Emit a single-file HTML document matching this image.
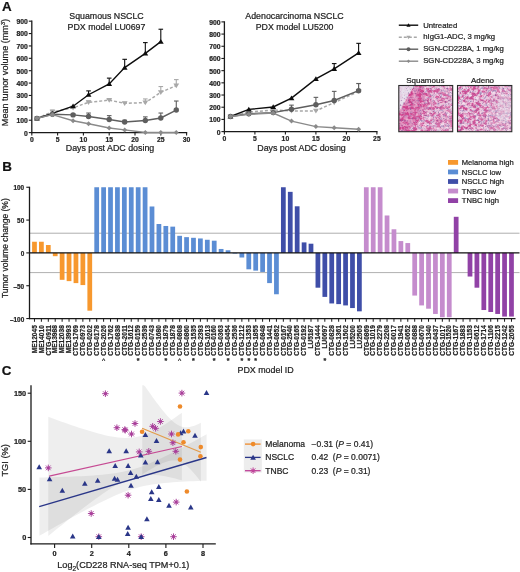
<!DOCTYPE html>
<html><head><meta charset="utf-8"><style>
html,body{margin:0;padding:0;background:#fff;}
svg{display:block;font-family:"Liberation Sans", sans-serif;will-change:transform;}
text{stroke:#222;stroke-width:0.22px;paint-order:stroke;}
</style></head><body>
<svg width="520" height="572" viewBox="0 0 520 572">
<rect width="520" height="572" fill="#fff"/>
<text x="2.00" y="11.00" font-size="13.4" text-anchor="start" font-weight="bold" fill="#111" >A</text>
<text x="2.30" y="171.20" font-size="13.4" text-anchor="start" font-weight="bold" fill="#111" >B</text>
<text x="1.70" y="375.30" font-size="13.4" text-anchor="start" font-weight="bold" fill="#111" >C</text>
<line x1="31.80" y1="20.58" x2="31.80" y2="133.20" stroke="#1a1a1a" stroke-width="1.3" />
<line x1="31.20" y1="132.60" x2="187.20" y2="132.60" stroke="#1a1a1a" stroke-width="1.3" />
<line x1="28.80" y1="132.60" x2="31.80" y2="132.60" stroke="#1a1a1a" stroke-width="1.1" />
<text x="27.90" y="135.50" font-size="6.8" text-anchor="end" font-weight="bold" fill="#222" >0</text>
<line x1="28.80" y1="120.22" x2="31.80" y2="120.22" stroke="#1a1a1a" stroke-width="1.1" />
<text x="27.90" y="123.12" font-size="6.8" text-anchor="end" font-weight="bold" fill="#222" >100</text>
<line x1="28.80" y1="107.84" x2="31.80" y2="107.84" stroke="#1a1a1a" stroke-width="1.1" />
<text x="27.90" y="110.74" font-size="6.8" text-anchor="end" font-weight="bold" fill="#222" >200</text>
<line x1="28.80" y1="95.46" x2="31.80" y2="95.46" stroke="#1a1a1a" stroke-width="1.1" />
<text x="27.90" y="98.36" font-size="6.8" text-anchor="end" font-weight="bold" fill="#222" >300</text>
<line x1="28.80" y1="83.08" x2="31.80" y2="83.08" stroke="#1a1a1a" stroke-width="1.1" />
<text x="27.90" y="85.98" font-size="6.8" text-anchor="end" font-weight="bold" fill="#222" >400</text>
<line x1="28.80" y1="70.70" x2="31.80" y2="70.70" stroke="#1a1a1a" stroke-width="1.1" />
<text x="27.90" y="73.60" font-size="6.8" text-anchor="end" font-weight="bold" fill="#222" >500</text>
<line x1="28.80" y1="58.32" x2="31.80" y2="58.32" stroke="#1a1a1a" stroke-width="1.1" />
<text x="27.90" y="61.22" font-size="6.8" text-anchor="end" font-weight="bold" fill="#222" >600</text>
<line x1="28.80" y1="45.94" x2="31.80" y2="45.94" stroke="#1a1a1a" stroke-width="1.1" />
<text x="27.90" y="48.84" font-size="6.8" text-anchor="end" font-weight="bold" fill="#222" >700</text>
<line x1="28.80" y1="33.56" x2="31.80" y2="33.56" stroke="#1a1a1a" stroke-width="1.1" />
<text x="27.90" y="36.46" font-size="6.8" text-anchor="end" font-weight="bold" fill="#222" >800</text>
<line x1="28.80" y1="21.18" x2="31.80" y2="21.18" stroke="#1a1a1a" stroke-width="1.1" />
<text x="27.90" y="24.08" font-size="6.8" text-anchor="end" font-weight="bold" fill="#222" >900</text>
<line x1="31.80" y1="132.60" x2="31.80" y2="135.40" stroke="#1a1a1a" stroke-width="1.1" />
<text x="31.80" y="142.00" font-size="6.8" text-anchor="middle" font-weight="bold" fill="#222" >0</text>
<line x1="57.60" y1="132.60" x2="57.60" y2="135.40" stroke="#1a1a1a" stroke-width="1.1" />
<text x="57.60" y="142.00" font-size="6.8" text-anchor="middle" font-weight="bold" fill="#222" >5</text>
<line x1="83.40" y1="132.60" x2="83.40" y2="135.40" stroke="#1a1a1a" stroke-width="1.1" />
<text x="83.40" y="142.00" font-size="6.8" text-anchor="middle" font-weight="bold" fill="#222" >10</text>
<line x1="109.20" y1="132.60" x2="109.20" y2="135.40" stroke="#1a1a1a" stroke-width="1.1" />
<text x="109.20" y="142.00" font-size="6.8" text-anchor="middle" font-weight="bold" fill="#222" >15</text>
<line x1="135.00" y1="132.60" x2="135.00" y2="135.40" stroke="#1a1a1a" stroke-width="1.1" />
<text x="135.00" y="142.00" font-size="6.8" text-anchor="middle" font-weight="bold" fill="#222" >20</text>
<line x1="160.80" y1="132.60" x2="160.80" y2="135.40" stroke="#1a1a1a" stroke-width="1.1" />
<text x="160.80" y="142.00" font-size="6.8" text-anchor="middle" font-weight="bold" fill="#222" >25</text>
<line x1="186.60" y1="132.60" x2="186.60" y2="135.40" stroke="#1a1a1a" stroke-width="1.1" />
<text x="186.60" y="142.00" font-size="6.8" text-anchor="middle" font-weight="bold" fill="#222" >30</text>
<line x1="52.44" y1="111.80" x2="52.44" y2="110.07" stroke="#a8a8a8" stroke-width="1.1" />
<line x1="50.14" y1="110.07" x2="54.74" y2="110.07" stroke="#a8a8a8" stroke-width="1.1" />
<line x1="88.56" y1="102.27" x2="88.56" y2="100.91" stroke="#a8a8a8" stroke-width="1.1" />
<line x1="86.26" y1="100.91" x2="90.86" y2="100.91" stroke="#a8a8a8" stroke-width="1.1" />
<line x1="109.20" y1="100.16" x2="109.20" y2="99.17" stroke="#a8a8a8" stroke-width="1.1" />
<line x1="106.90" y1="99.17" x2="111.50" y2="99.17" stroke="#a8a8a8" stroke-width="1.1" />
<line x1="124.68" y1="103.26" x2="124.68" y2="102.27" stroke="#a8a8a8" stroke-width="1.1" />
<line x1="122.38" y1="102.27" x2="126.98" y2="102.27" stroke="#a8a8a8" stroke-width="1.1" />
<line x1="145.32" y1="102.64" x2="145.32" y2="98.93" stroke="#a8a8a8" stroke-width="1.1" />
<line x1="143.02" y1="98.93" x2="147.62" y2="98.93" stroke="#a8a8a8" stroke-width="1.1" />
<line x1="160.80" y1="92.36" x2="160.80" y2="86.55" stroke="#a8a8a8" stroke-width="1.1" />
<line x1="158.50" y1="86.55" x2="163.10" y2="86.55" stroke="#a8a8a8" stroke-width="1.1" />
<line x1="176.28" y1="85.56" x2="176.28" y2="79.61" stroke="#a8a8a8" stroke-width="1.1" />
<line x1="173.98" y1="79.61" x2="178.58" y2="79.61" stroke="#a8a8a8" stroke-width="1.1" />
<polyline points="36.96,118.36 52.44,111.80 73.08,107.84 88.56,102.27 109.20,100.16 124.68,103.26 145.32,102.64 160.80,92.36 176.28,85.56" stroke="#a8a8a8" stroke-width="1.5" fill="none" stroke-dasharray="3,2"/>
<polygon points="34.06,116.26 39.86,116.26 36.96,121.06" fill="#a8a8a8" />
<polygon points="49.54,109.70 55.34,109.70 52.44,114.50" fill="#a8a8a8" />
<polygon points="70.18,105.74 75.98,105.74 73.08,110.54" fill="#a8a8a8" />
<polygon points="85.66,100.17 91.46,100.17 88.56,104.97" fill="#a8a8a8" />
<polygon points="106.30,98.06 112.10,98.06 109.20,102.86" fill="#a8a8a8" />
<polygon points="121.78,101.16 127.58,101.16 124.68,105.96" fill="#a8a8a8" />
<polygon points="142.42,100.54 148.22,100.54 145.32,105.34" fill="#a8a8a8" />
<polygon points="157.90,90.27 163.70,90.27 160.80,95.06" fill="#a8a8a8" />
<polygon points="173.38,83.46 179.18,83.46 176.28,88.26" fill="#a8a8a8" />
<line x1="88.56" y1="94.72" x2="88.56" y2="90.88" stroke="#0d0d0d" stroke-width="1.1" />
<line x1="86.26" y1="90.88" x2="90.86" y2="90.88" stroke="#0d0d0d" stroke-width="1.1" />
<line x1="109.20" y1="83.95" x2="109.20" y2="78.13" stroke="#0d0d0d" stroke-width="1.1" />
<line x1="106.90" y1="78.13" x2="111.50" y2="78.13" stroke="#0d0d0d" stroke-width="1.1" />
<line x1="124.68" y1="67.61" x2="124.68" y2="59.31" stroke="#0d0d0d" stroke-width="1.1" />
<line x1="122.38" y1="59.31" x2="126.98" y2="59.31" stroke="#0d0d0d" stroke-width="1.1" />
<line x1="145.32" y1="53.37" x2="145.32" y2="42.60" stroke="#0d0d0d" stroke-width="1.1" />
<line x1="143.02" y1="42.60" x2="147.62" y2="42.60" stroke="#0d0d0d" stroke-width="1.1" />
<line x1="160.80" y1="41.61" x2="160.80" y2="29.23" stroke="#0d0d0d" stroke-width="1.1" />
<line x1="158.50" y1="29.23" x2="163.10" y2="29.23" stroke="#0d0d0d" stroke-width="1.1" />
<polyline points="36.96,118.36 52.44,113.41 73.08,106.23 88.56,94.72 109.20,83.95 124.68,67.61 145.32,53.37 160.80,41.61" stroke="#0d0d0d" stroke-width="1.4" fill="none" />
<polygon points="34.06,120.46 39.86,120.46 36.96,115.66" fill="#0d0d0d" />
<polygon points="49.54,115.51 55.34,115.51 52.44,110.71" fill="#0d0d0d" />
<polygon points="70.18,108.33 75.98,108.33 73.08,103.53" fill="#0d0d0d" />
<polygon points="85.66,96.82 91.46,96.82 88.56,92.02" fill="#0d0d0d" />
<polygon points="106.30,86.05 112.10,86.05 109.20,81.25" fill="#0d0d0d" />
<polygon points="121.78,69.70 127.58,69.70 124.68,64.91" fill="#0d0d0d" />
<polygon points="142.42,55.47 148.22,55.47 145.32,50.67" fill="#0d0d0d" />
<polygon points="157.90,43.71 163.70,43.71 160.80,38.91" fill="#0d0d0d" />
<line x1="73.08" y1="114.90" x2="73.08" y2="114.03" stroke="#5e5e5e" stroke-width="1.1" />
<line x1="70.78" y1="114.03" x2="75.38" y2="114.03" stroke="#5e5e5e" stroke-width="1.1" />
<line x1="88.56" y1="116.51" x2="88.56" y2="113.04" stroke="#5e5e5e" stroke-width="1.1" />
<line x1="86.26" y1="113.04" x2="90.86" y2="113.04" stroke="#5e5e5e" stroke-width="1.1" />
<line x1="109.20" y1="119.48" x2="109.20" y2="115.64" stroke="#5e5e5e" stroke-width="1.1" />
<line x1="106.90" y1="115.64" x2="111.50" y2="115.64" stroke="#5e5e5e" stroke-width="1.1" />
<line x1="124.68" y1="121.95" x2="124.68" y2="120.22" stroke="#5e5e5e" stroke-width="1.1" />
<line x1="122.38" y1="120.22" x2="126.98" y2="120.22" stroke="#5e5e5e" stroke-width="1.1" />
<line x1="145.32" y1="120.47" x2="145.32" y2="116.88" stroke="#5e5e5e" stroke-width="1.1" />
<line x1="143.02" y1="116.88" x2="147.62" y2="116.88" stroke="#5e5e5e" stroke-width="1.1" />
<line x1="160.80" y1="117.99" x2="160.80" y2="113.04" stroke="#5e5e5e" stroke-width="1.1" />
<line x1="158.50" y1="113.04" x2="163.10" y2="113.04" stroke="#5e5e5e" stroke-width="1.1" />
<line x1="176.28" y1="110.07" x2="176.28" y2="101.03" stroke="#5e5e5e" stroke-width="1.1" />
<line x1="173.98" y1="101.03" x2="178.58" y2="101.03" stroke="#5e5e5e" stroke-width="1.1" />
<polyline points="36.96,118.36 52.44,114.28 73.08,114.90 88.56,116.51 109.20,119.48 124.68,121.95 145.32,120.47 160.80,117.99 176.28,110.07" stroke="#5e5e5e" stroke-width="1.4" fill="none" />
<circle cx="36.96" cy="118.36" r="2.70" fill="#5e5e5e"/>
<circle cx="52.44" cy="114.28" r="2.70" fill="#5e5e5e"/>
<circle cx="73.08" cy="114.90" r="2.70" fill="#5e5e5e"/>
<circle cx="88.56" cy="116.51" r="2.70" fill="#5e5e5e"/>
<circle cx="109.20" cy="119.48" r="2.70" fill="#5e5e5e"/>
<circle cx="124.68" cy="121.95" r="2.70" fill="#5e5e5e"/>
<circle cx="145.32" cy="120.47" r="2.70" fill="#5e5e5e"/>
<circle cx="160.80" cy="117.99" r="2.70" fill="#5e5e5e"/>
<circle cx="176.28" cy="110.07" r="2.70" fill="#5e5e5e"/>
<polyline points="36.96,118.36 52.44,114.65 73.08,120.72 88.56,123.69 109.20,128.02 124.68,129.88 145.32,132.48 160.80,132.48 176.28,132.48" stroke="#8a8a8a" stroke-width="1.4" fill="none" />
<polygon points="34.46,118.36 36.96,115.86 39.46,118.36 36.96,120.86" fill="#8a8a8a" />
<polygon points="49.94,114.65 52.44,112.15 54.94,114.65 52.44,117.15" fill="#8a8a8a" />
<polygon points="70.58,120.72 73.08,118.22 75.58,120.72 73.08,123.22" fill="#8a8a8a" />
<polygon points="86.06,123.69 88.56,121.19 91.06,123.69 88.56,126.19" fill="#8a8a8a" />
<polygon points="106.70,128.02 109.20,125.52 111.70,128.02 109.20,130.52" fill="#8a8a8a" />
<polygon points="122.18,129.88 124.68,127.38 127.18,129.88 124.68,132.38" fill="#8a8a8a" />
<polygon points="142.82,132.48 145.32,129.98 147.82,132.48 145.32,134.98" fill="#8a8a8a" />
<polygon points="158.30,132.48 160.80,129.98 163.30,132.48 160.80,134.98" fill="#8a8a8a" />
<polygon points="173.78,132.48 176.28,129.98 178.78,132.48 176.28,134.98" fill="#8a8a8a" />
<line x1="224.40" y1="21.29" x2="224.40" y2="132.20" stroke="#1a1a1a" stroke-width="1.3" />
<line x1="223.80" y1="131.60" x2="377.50" y2="131.60" stroke="#1a1a1a" stroke-width="1.3" />
<line x1="221.40" y1="131.60" x2="224.40" y2="131.60" stroke="#1a1a1a" stroke-width="1.1" />
<text x="220.50" y="134.50" font-size="6.8" text-anchor="end" font-weight="bold" fill="#222" >0</text>
<line x1="221.40" y1="119.41" x2="224.40" y2="119.41" stroke="#1a1a1a" stroke-width="1.1" />
<text x="220.50" y="122.31" font-size="6.8" text-anchor="end" font-weight="bold" fill="#222" >100</text>
<line x1="221.40" y1="107.22" x2="224.40" y2="107.22" stroke="#1a1a1a" stroke-width="1.1" />
<text x="220.50" y="110.12" font-size="6.8" text-anchor="end" font-weight="bold" fill="#222" >200</text>
<line x1="221.40" y1="95.03" x2="224.40" y2="95.03" stroke="#1a1a1a" stroke-width="1.1" />
<text x="220.50" y="97.93" font-size="6.8" text-anchor="end" font-weight="bold" fill="#222" >300</text>
<line x1="221.40" y1="82.84" x2="224.40" y2="82.84" stroke="#1a1a1a" stroke-width="1.1" />
<text x="220.50" y="85.74" font-size="6.8" text-anchor="end" font-weight="bold" fill="#222" >400</text>
<line x1="221.40" y1="70.65" x2="224.40" y2="70.65" stroke="#1a1a1a" stroke-width="1.1" />
<text x="220.50" y="73.55" font-size="6.8" text-anchor="end" font-weight="bold" fill="#222" >500</text>
<line x1="221.40" y1="58.46" x2="224.40" y2="58.46" stroke="#1a1a1a" stroke-width="1.1" />
<text x="220.50" y="61.36" font-size="6.8" text-anchor="end" font-weight="bold" fill="#222" >600</text>
<line x1="221.40" y1="46.27" x2="224.40" y2="46.27" stroke="#1a1a1a" stroke-width="1.1" />
<text x="220.50" y="49.17" font-size="6.8" text-anchor="end" font-weight="bold" fill="#222" >700</text>
<line x1="221.40" y1="34.08" x2="224.40" y2="34.08" stroke="#1a1a1a" stroke-width="1.1" />
<text x="220.50" y="36.98" font-size="6.8" text-anchor="end" font-weight="bold" fill="#222" >800</text>
<line x1="221.40" y1="21.89" x2="224.40" y2="21.89" stroke="#1a1a1a" stroke-width="1.1" />
<text x="220.50" y="24.79" font-size="6.8" text-anchor="end" font-weight="bold" fill="#222" >900</text>
<line x1="224.40" y1="131.60" x2="224.40" y2="134.40" stroke="#1a1a1a" stroke-width="1.1" />
<text x="224.40" y="141.00" font-size="6.8" text-anchor="middle" font-weight="bold" fill="#222" >0</text>
<line x1="254.90" y1="131.60" x2="254.90" y2="134.40" stroke="#1a1a1a" stroke-width="1.1" />
<text x="254.90" y="141.00" font-size="6.8" text-anchor="middle" font-weight="bold" fill="#222" >5</text>
<line x1="285.40" y1="131.60" x2="285.40" y2="134.40" stroke="#1a1a1a" stroke-width="1.1" />
<text x="285.40" y="141.00" font-size="6.8" text-anchor="middle" font-weight="bold" fill="#222" >10</text>
<line x1="315.90" y1="131.60" x2="315.90" y2="134.40" stroke="#1a1a1a" stroke-width="1.1" />
<text x="315.90" y="141.00" font-size="6.8" text-anchor="middle" font-weight="bold" fill="#222" >15</text>
<line x1="346.40" y1="131.60" x2="346.40" y2="134.40" stroke="#1a1a1a" stroke-width="1.1" />
<text x="346.40" y="141.00" font-size="6.8" text-anchor="middle" font-weight="bold" fill="#222" >20</text>
<line x1="376.90" y1="131.60" x2="376.90" y2="134.40" stroke="#1a1a1a" stroke-width="1.1" />
<text x="376.90" y="141.00" font-size="6.8" text-anchor="middle" font-weight="bold" fill="#222" >25</text>
<line x1="358.60" y1="91.37" x2="358.60" y2="83.45" stroke="#a8a8a8" stroke-width="1.1" />
<line x1="356.30" y1="83.45" x2="360.90" y2="83.45" stroke="#a8a8a8" stroke-width="1.1" />
<polyline points="230.50,116.48 248.80,112.10 273.20,110.02 291.50,110.88 315.90,110.88 334.20,102.59 358.60,91.37" stroke="#a8a8a8" stroke-width="1.5" fill="none" stroke-dasharray="3,2"/>
<polygon points="227.60,114.38 233.40,114.38 230.50,119.18" fill="#a8a8a8" />
<polygon points="245.90,110.00 251.70,110.00 248.80,114.80" fill="#a8a8a8" />
<polygon points="270.30,107.92 276.10,107.92 273.20,112.72" fill="#a8a8a8" />
<polygon points="288.60,108.78 294.40,108.78 291.50,113.58" fill="#a8a8a8" />
<polygon points="313.00,108.78 318.80,108.78 315.90,113.58" fill="#a8a8a8" />
<polygon points="331.30,100.49 337.10,100.49 334.20,105.29" fill="#a8a8a8" />
<polygon points="355.70,89.27 361.50,89.27 358.60,94.07" fill="#a8a8a8" />
<line x1="334.20" y1="68.82" x2="334.20" y2="63.58" stroke="#0d0d0d" stroke-width="1.1" />
<line x1="331.90" y1="63.58" x2="336.50" y2="63.58" stroke="#0d0d0d" stroke-width="1.1" />
<line x1="358.60" y1="52.85" x2="358.60" y2="43.34" stroke="#0d0d0d" stroke-width="1.1" />
<line x1="356.30" y1="43.34" x2="360.90" y2="43.34" stroke="#0d0d0d" stroke-width="1.1" />
<polyline points="230.50,116.48 248.80,109.41 273.20,106.98 291.50,98.08 315.90,78.94 334.20,68.82 358.60,52.85" stroke="#0d0d0d" stroke-width="1.4" fill="none" />
<polygon points="227.60,118.58 233.40,118.58 230.50,113.78" fill="#0d0d0d" />
<polygon points="245.90,111.51 251.70,111.51 248.80,106.71" fill="#0d0d0d" />
<polygon points="270.30,109.08 276.10,109.08 273.20,104.28" fill="#0d0d0d" />
<polygon points="288.60,100.18 294.40,100.18 291.50,95.38" fill="#0d0d0d" />
<polygon points="313.00,81.04 318.80,81.04 315.90,76.24" fill="#0d0d0d" />
<polygon points="331.30,70.92 337.10,70.92 334.20,66.12" fill="#0d0d0d" />
<polygon points="355.70,54.95 361.50,54.95 358.60,50.15" fill="#0d0d0d" />
<line x1="291.50" y1="109.29" x2="291.50" y2="105.15" stroke="#5e5e5e" stroke-width="1.1" />
<line x1="289.20" y1="105.15" x2="293.80" y2="105.15" stroke="#5e5e5e" stroke-width="1.1" />
<line x1="315.90" y1="104.78" x2="315.90" y2="97.35" stroke="#5e5e5e" stroke-width="1.1" />
<line x1="313.60" y1="97.35" x2="318.20" y2="97.35" stroke="#5e5e5e" stroke-width="1.1" />
<line x1="334.20" y1="100.52" x2="334.20" y2="91.37" stroke="#5e5e5e" stroke-width="1.1" />
<line x1="331.90" y1="91.37" x2="336.50" y2="91.37" stroke="#5e5e5e" stroke-width="1.1" />
<line x1="358.60" y1="90.64" x2="358.60" y2="83.57" stroke="#5e5e5e" stroke-width="1.1" />
<line x1="356.30" y1="83.57" x2="360.90" y2="83.57" stroke="#5e5e5e" stroke-width="1.1" />
<polyline points="230.50,116.48 248.80,113.80 273.20,112.58 291.50,109.29 315.90,104.78 334.20,100.52 358.60,90.64" stroke="#5e5e5e" stroke-width="1.4" fill="none" />
<circle cx="230.50" cy="116.48" r="2.70" fill="#5e5e5e"/>
<circle cx="248.80" cy="113.80" r="2.70" fill="#5e5e5e"/>
<circle cx="273.20" cy="112.58" r="2.70" fill="#5e5e5e"/>
<circle cx="291.50" cy="109.29" r="2.70" fill="#5e5e5e"/>
<circle cx="315.90" cy="104.78" r="2.70" fill="#5e5e5e"/>
<circle cx="334.20" cy="100.52" r="2.70" fill="#5e5e5e"/>
<circle cx="358.60" cy="90.64" r="2.70" fill="#5e5e5e"/>
<polyline points="230.50,116.48 248.80,114.29 273.20,113.07 291.50,121.12 315.90,126.60 334.20,127.82 358.60,129.28" stroke="#8a8a8a" stroke-width="1.4" fill="none" />
<polygon points="228.00,116.48 230.50,113.98 233.00,116.48 230.50,118.98" fill="#8a8a8a" />
<polygon points="246.30,114.29 248.80,111.79 251.30,114.29 248.80,116.79" fill="#8a8a8a" />
<polygon points="270.70,113.07 273.20,110.57 275.70,113.07 273.20,115.57" fill="#8a8a8a" />
<polygon points="289.00,121.12 291.50,118.62 294.00,121.12 291.50,123.62" fill="#8a8a8a" />
<polygon points="313.40,126.60 315.90,124.10 318.40,126.60 315.90,129.10" fill="#8a8a8a" />
<polygon points="331.70,127.82 334.20,125.32 336.70,127.82 334.20,130.32" fill="#8a8a8a" />
<polygon points="356.10,129.28 358.60,126.78 361.10,129.28 358.60,131.78" fill="#8a8a8a" />
<text x="106.50" y="19.10" font-size="8.8" text-anchor="middle" font-weight="normal" fill="#222" >Squamous NSCLC</text>
<text x="106.50" y="29.60" font-size="8.8" text-anchor="middle" font-weight="normal" fill="#222" >PDX model LU0697</text>
<text x="294.50" y="19.10" font-size="8.8" text-anchor="middle" font-weight="normal" fill="#222" >Adenocarcinoma NSCLC</text>
<text x="294.60" y="29.60" font-size="8.8" text-anchor="middle" font-weight="normal" fill="#222" >PDX model LU5200</text>
<text x="110.00" y="151.30" font-size="8.85" text-anchor="middle" font-weight="normal" fill="#222" >Days post ADC dosing</text>
<text x="301.50" y="151.30" font-size="8.85" text-anchor="middle" font-weight="normal" fill="#222" >Days post ADC dosing</text>
<text transform="translate(8.4,72.6) rotate(-90)" font-size="9.1" text-anchor="middle" fill="#222">Mean tumor volume (mm<tspan font-size="5.5" dy="-3">3</tspan><tspan dy="3">)</tspan></text>
<line x1="398.80" y1="25.20" x2="418.20" y2="25.20" stroke="#0d0d0d" stroke-width="1.4" />
<polygon points="406.41,26.71 410.59,26.71 408.50,23.26" fill="#0d0d0d" />
<text x="423.20" y="27.60" font-size="7.75" text-anchor="start" font-weight="normal" fill="#222" >Untreated</text>
<line x1="398.80" y1="37.20" x2="418.20" y2="37.20" stroke="#a8a8a8" stroke-width="1.4" stroke-dasharray="3,2"/>
<polygon points="406.41,35.69 410.59,35.69 408.50,39.14" fill="#a8a8a8" />
<text x="423.20" y="39.45" font-size="7.75" text-anchor="start" font-weight="normal" fill="#222" >hIgG1-ADC, 3 mg/kg</text>
<line x1="398.80" y1="49.20" x2="418.20" y2="49.20" stroke="#5e5e5e" stroke-width="1.4" />
<circle cx="408.50" cy="49.20" r="1.94" fill="#5e5e5e"/>
<text x="423.20" y="51.30" font-size="7.75" text-anchor="start" font-weight="normal" fill="#222" >SGN-CD228A, 1 mg/kg</text>
<line x1="398.80" y1="61.20" x2="418.20" y2="61.20" stroke="#8a8a8a" stroke-width="1.4" />
<polygon points="406.70,61.20 408.50,59.40 410.30,61.20 408.50,63.00" fill="#8a8a8a" />
<text x="423.20" y="63.15" font-size="7.75" text-anchor="start" font-weight="normal" fill="#222" >SGN-CD228A, 3 mg/kg</text>
<text x="425.30" y="82.60" font-size="8.0" text-anchor="middle" font-weight="normal" fill="#222" >Squamous</text>
<text x="482.50" y="82.60" font-size="8.0" text-anchor="middle" font-weight="normal" fill="#222" >Adeno</text>
<defs>
<filter id="blotA" x="0" y="0" width="100%" height="100%" color-interpolation-filters="sRGB">
 <feTurbulence type="fractalNoise" baseFrequency="0.22 0.3" numOctaves="3" seed="5" result="n"/>
 <feColorMatrix in="n" type="matrix" values="0 0 0 0 0.80  0 0 0 0 0.22  0 0 0 0 0.53  4.5 0 0 0 -1.85" result="c"/>
 <feComposite in="c" in2="SourceGraphic" operator="in"/>
</filter>
<filter id="blotB" x="0" y="0" width="100%" height="100%" color-interpolation-filters="sRGB">
 <feTurbulence type="fractalNoise" baseFrequency="0.25 0.3" numOctaves="3" seed="21" result="n"/>
 <feColorMatrix in="n" type="matrix" values="0 0 0 0 0.80  0 0 0 0 0.25  0 0 0 0 0.55  4.5 0 0 0 -1.85" result="c"/>
 <feComposite in="c" in2="SourceGraphic" operator="in"/>
</filter>
<filter id="lilac" x="0" y="0" width="100%" height="100%" color-interpolation-filters="sRGB">
 <feTurbulence type="fractalNoise" baseFrequency="0.4" numOctaves="2" seed="31" result="n"/>
 <feColorMatrix in="n" type="matrix" values="0 0 0 0 0.66  0 0 0 0 0.58  0 0 0 0 0.76  0 4.5 0 0 -2.1" result="c"/>
 <feComposite in="c" in2="SourceGraphic" operator="in"/>
</filter>
<filter id="white" x="0" y="0" width="100%" height="100%" color-interpolation-filters="sRGB">
 <feTurbulence type="fractalNoise" baseFrequency="0.38" numOctaves="2" seed="8" result="n"/>
 <feColorMatrix in="n" type="matrix" values="0 0 0 0 0.99  0 0 0 0 0.96  0 0 0 0 0.99  0 0 5 0 -2.6" result="c"/>
 <feComposite in="c" in2="SourceGraphic" operator="in"/>
</filter>
<filter id="dots" x="0" y="0" width="100%" height="100%" color-interpolation-filters="sRGB">
 <feTurbulence type="fractalNoise" baseFrequency="0.6" numOctaves="1" seed="13" result="n"/>
 <feColorMatrix in="n" type="matrix" values="0 0 0 0 0.50  0 0 0 0 0.32  0 0 0 0 0.58  0 0 0 7 -4.3" result="c"/>
 <feComposite in="c" in2="SourceGraphic" operator="in"/>
</filter>
<filter id="soft" x="-5%" y="-5%" width="110%" height="110%"><feGaussianBlur stdDeviation="0.6"/></filter>
<linearGradient id="mSqG" x1="0" y1="0" x2="1" y2="0.35">
 <stop offset="0" stop-color="#fff" stop-opacity="1"/>
 <stop offset="0.45" stop-color="#fff" stop-opacity="0.85"/>
 <stop offset="1" stop-color="#fff" stop-opacity="0.55"/>
</linearGradient>
<linearGradient id="mAdG" x1="0" y1="0" x2="1" y2="0.2">
 <stop offset="0" stop-color="#fff" stop-opacity="0.95"/>
 <stop offset="0.5" stop-color="#fff" stop-opacity="0.8"/>
 <stop offset="0.75" stop-color="#fff" stop-opacity="0.55"/>
 <stop offset="1" stop-color="#fff" stop-opacity="0.35"/>
</linearGradient>
<mask id="mSq" maskUnits="userSpaceOnUse" x="398" y="85" width="56" height="48"><rect x="398" y="85" width="56" height="48" fill="url(#mSqG)"/></mask>
<mask id="mAd" maskUnits="userSpaceOnUse" x="457" y="85" width="56" height="48"><rect x="457" y="85" width="56" height="48" fill="url(#mAdG)"/></mask>
<clipPath id="clipSq"><rect x="398.8" y="85.5" width="53.9" height="46.2"/></clipPath>
<clipPath id="clipAd"><rect x="457.5" y="85.5" width="54.3" height="46.2"/></clipPath>
</defs>
<g clip-path="url(#clipSq)"><g filter="url(#soft)">
<rect x="398.8" y="85.5" width="53.9" height="46.2" fill="#ebbfd8"/>
<rect x="398.8" y="85.5" width="53.9" height="46.2" fill="#fff" filter="url(#lilac)" opacity="0.7"/>
<g mask="url(#mSq)">
<rect x="398.8" y="85.5" width="53.9" height="46.2" fill="#fff" filter="url(#blotA)"/>
</g>
<rect x="398.8" y="85.5" width="53.9" height="46.2" fill="#fff" filter="url(#white)" opacity="0.6"/>
<polygon points="414,85.5 424,85.5 426,100 420,118 408,131.7 398.8,131.7 398.8,112" fill="#cf3f8c" fill-opacity="0.32"/>
<rect x="398.8" y="85.5" width="53.9" height="46.2" fill="#fff" filter="url(#dots)" opacity="0.6"/>
<polygon points="398.8,85.5 414.5,85.5 398.8,111" fill="#e8e4ee" fill-opacity="0.85"/>
<polygon points="398.8,85.5 414.5,85.5 398.8,111" fill="#fff" filter="url(#dots)" opacity="0.5"/>
</g></g>
<g clip-path="url(#clipAd)"><g filter="url(#soft)">
<rect x="457.5" y="85.5" width="54.3" height="46.2" fill="#ecc6dc"/>
<rect x="457.5" y="85.5" width="54.3" height="46.2" fill="#fff" filter="url(#lilac)" opacity="0.75"/>
<g mask="url(#mAd)">
<rect x="457.5" y="85.5" width="54.3" height="46.2" fill="#fff" filter="url(#blotB)"/>
</g>
<rect x="457.5" y="85.5" width="54.3" height="46.2" fill="#fff" filter="url(#white)" opacity="0.6"/>
<rect x="457.5" y="85.5" width="54.3" height="46.2" fill="#fff" filter="url(#dots)" opacity="0.6"/>
<ellipse cx="504" cy="108" rx="7" ry="14" fill="#e4e4ee" fill-opacity="0.35"/>
</g></g>
<rect x="398.8" y="85.5" width="53.90" height="46.2" fill="none" stroke="#2a2a2a" stroke-width="1.1"/>
<rect x="457.5" y="85.5" width="54.30" height="46.2" fill="none" stroke="#2a2a2a" stroke-width="1.1"/>
<line x1="29.50" y1="233.21" x2="519.50" y2="233.21" stroke="#9a9a9a" stroke-width="0.8" />
<line x1="29.50" y1="272.60" x2="519.50" y2="272.60" stroke="#9a9a9a" stroke-width="0.8" />
<rect x="32.10" y="241.74" width="4.75" height="11.16" fill="#f7982e"/>
<rect x="39.01" y="241.74" width="4.75" height="11.16" fill="#f7982e"/>
<rect x="45.93" y="245.02" width="4.75" height="7.88" fill="#f7982e"/>
<rect x="52.84" y="252.90" width="4.75" height="3.28" fill="#f7982e"/>
<rect x="59.75" y="252.90" width="4.75" height="26.92" fill="#f7982e"/>
<rect x="66.66" y="252.90" width="4.75" height="28.23" fill="#f7982e"/>
<rect x="73.58" y="252.90" width="4.75" height="30.20" fill="#f7982e"/>
<rect x="80.49" y="252.90" width="4.75" height="32.17" fill="#f7982e"/>
<rect x="87.40" y="252.90" width="4.75" height="57.77" fill="#f7982e"/>
<rect x="94.32" y="187.25" width="4.75" height="65.65" fill="#5b8dd4"/>
<rect x="101.23" y="187.25" width="4.75" height="65.65" fill="#5b8dd4"/>
<rect x="108.14" y="187.25" width="4.75" height="65.65" fill="#5b8dd4"/>
<rect x="115.06" y="187.25" width="4.75" height="65.65" fill="#5b8dd4"/>
<rect x="121.97" y="187.25" width="4.75" height="65.65" fill="#5b8dd4"/>
<rect x="128.88" y="187.25" width="4.75" height="65.65" fill="#5b8dd4"/>
<rect x="135.80" y="187.25" width="4.75" height="65.65" fill="#5b8dd4"/>
<rect x="142.71" y="187.25" width="4.75" height="65.65" fill="#5b8dd4"/>
<rect x="149.62" y="206.49" width="4.75" height="46.41" fill="#5b8dd4"/>
<rect x="156.53" y="224.01" width="4.75" height="28.89" fill="#5b8dd4"/>
<rect x="163.45" y="225.98" width="4.75" height="26.92" fill="#5b8dd4"/>
<rect x="170.36" y="226.64" width="4.75" height="26.26" fill="#5b8dd4"/>
<rect x="177.27" y="235.83" width="4.75" height="17.07" fill="#5b8dd4"/>
<rect x="184.19" y="237.14" width="4.75" height="15.76" fill="#5b8dd4"/>
<rect x="191.10" y="237.80" width="4.75" height="15.10" fill="#5b8dd4"/>
<rect x="198.01" y="238.46" width="4.75" height="14.44" fill="#5b8dd4"/>
<rect x="204.93" y="239.77" width="4.75" height="13.13" fill="#5b8dd4"/>
<rect x="211.84" y="240.69" width="4.75" height="12.21" fill="#5b8dd4"/>
<rect x="218.75" y="248.96" width="4.75" height="3.94" fill="#5b8dd4"/>
<rect x="225.66" y="250.27" width="4.75" height="2.63" fill="#5b8dd4"/>
<rect x="232.58" y="252.90" width="4.75" height="0.66" fill="#5b8dd4"/>
<rect x="239.49" y="252.90" width="4.75" height="4.60" fill="#5b8dd4"/>
<rect x="246.40" y="252.90" width="4.75" height="16.41" fill="#5b8dd4"/>
<rect x="253.32" y="252.90" width="4.75" height="17.73" fill="#5b8dd4"/>
<rect x="260.23" y="252.90" width="4.75" height="19.04" fill="#5b8dd4"/>
<rect x="267.14" y="252.90" width="4.75" height="30.20" fill="#5b8dd4"/>
<rect x="274.06" y="252.90" width="4.75" height="41.36" fill="#5b8dd4"/>
<rect x="280.97" y="187.25" width="4.75" height="65.65" fill="#3f4ea8"/>
<rect x="287.88" y="191.85" width="4.75" height="61.05" fill="#3f4ea8"/>
<rect x="294.79" y="206.29" width="4.75" height="46.61" fill="#3f4ea8"/>
<rect x="301.71" y="242.40" width="4.75" height="10.50" fill="#3f4ea8"/>
<rect x="308.62" y="243.71" width="4.75" height="9.19" fill="#3f4ea8"/>
<rect x="315.53" y="252.90" width="4.75" height="34.79" fill="#3f4ea8"/>
<rect x="322.45" y="252.90" width="4.75" height="43.99" fill="#3f4ea8"/>
<rect x="329.36" y="252.90" width="4.75" height="50.55" fill="#3f4ea8"/>
<rect x="336.27" y="252.90" width="4.75" height="51.21" fill="#3f4ea8"/>
<rect x="343.19" y="252.90" width="4.75" height="52.52" fill="#3f4ea8"/>
<rect x="350.10" y="252.90" width="4.75" height="55.15" fill="#3f4ea8"/>
<rect x="357.01" y="252.90" width="4.75" height="58.43" fill="#3f4ea8"/>
<rect x="363.92" y="187.25" width="4.75" height="65.65" fill="#c58ccd"/>
<rect x="370.84" y="187.25" width="4.75" height="65.65" fill="#c58ccd"/>
<rect x="377.75" y="187.25" width="4.75" height="65.65" fill="#c58ccd"/>
<rect x="384.66" y="215.48" width="4.75" height="37.42" fill="#c58ccd"/>
<rect x="391.58" y="229.27" width="4.75" height="23.63" fill="#c58ccd"/>
<rect x="398.49" y="241.08" width="4.75" height="11.82" fill="#c58ccd"/>
<rect x="405.40" y="243.05" width="4.75" height="9.85" fill="#c58ccd"/>
<rect x="412.32" y="252.90" width="4.75" height="42.67" fill="#c58ccd"/>
<rect x="419.23" y="252.90" width="4.75" height="52.52" fill="#c58ccd"/>
<rect x="426.14" y="252.90" width="4.75" height="55.80" fill="#c58ccd"/>
<rect x="433.05" y="252.90" width="4.75" height="61.05" fill="#c58ccd"/>
<rect x="439.97" y="252.90" width="4.75" height="64.34" fill="#c58ccd"/>
<rect x="446.88" y="252.90" width="4.75" height="64.34" fill="#c58ccd"/>
<rect x="453.79" y="216.79" width="4.75" height="36.11" fill="#9142a6"/>
<rect x="460.71" y="252.90" width="4.75" height="0.00" fill="#9142a6"/>
<rect x="467.62" y="252.90" width="4.75" height="23.63" fill="#9142a6"/>
<rect x="474.53" y="252.90" width="4.75" height="34.79" fill="#9142a6"/>
<rect x="481.45" y="252.90" width="4.75" height="57.12" fill="#9142a6"/>
<rect x="488.36" y="252.90" width="4.75" height="59.09" fill="#9142a6"/>
<rect x="495.27" y="252.90" width="4.75" height="61.05" fill="#9142a6"/>
<rect x="502.18" y="252.90" width="4.75" height="63.68" fill="#9142a6"/>
<rect x="509.10" y="252.90" width="4.75" height="63.68" fill="#9142a6"/>
<line x1="29.50" y1="252.90" x2="519.50" y2="252.90" stroke="#111" stroke-width="1.3" />
<line x1="29.50" y1="186.75" x2="29.50" y2="319.15" stroke="#1a1a1a" stroke-width="1.3" />
<line x1="28.90" y1="318.55" x2="515.50" y2="318.55" stroke="#1a1a1a" stroke-width="1.3" />
<line x1="26.30" y1="187.25" x2="29.50" y2="187.25" stroke="#1a1a1a" stroke-width="1.1" />
<text x="24.20" y="189.85" font-size="6.4" text-anchor="end" font-weight="bold" fill="#222" >100</text>
<line x1="26.30" y1="220.08" x2="29.50" y2="220.08" stroke="#1a1a1a" stroke-width="1.1" />
<text x="24.20" y="222.98" font-size="6.4" text-anchor="end" font-weight="bold" fill="#222" >50</text>
<line x1="26.30" y1="252.90" x2="29.50" y2="252.90" stroke="#1a1a1a" stroke-width="1.1" />
<text x="24.20" y="256.10" font-size="6.4" text-anchor="end" font-weight="bold" fill="#222" >0</text>
<line x1="26.30" y1="285.73" x2="29.50" y2="285.73" stroke="#1a1a1a" stroke-width="1.1" />
<text x="24.20" y="289.23" font-size="6.4" text-anchor="end" font-weight="bold" fill="#222" >–50</text>
<line x1="26.30" y1="318.55" x2="29.50" y2="318.55" stroke="#1a1a1a" stroke-width="1.1" />
<text x="24.20" y="322.35" font-size="6.4" text-anchor="end" font-weight="bold" fill="#222" >–100</text>
<line x1="34.48" y1="318.55" x2="34.48" y2="321.75" stroke="#1a1a1a" stroke-width="1.0" />
<text transform="translate(36.68,325.2) rotate(-90)" font-size="6.55" font-weight="bold" text-anchor="end" fill="#222">ME12045</text>
<line x1="41.39" y1="318.55" x2="41.39" y2="321.75" stroke="#1a1a1a" stroke-width="1.0" />
<text transform="translate(43.59,325.2) rotate(-90)" font-size="6.55" font-weight="bold" text-anchor="end" fill="#222">ME14010</text>
<line x1="48.30" y1="318.55" x2="48.30" y2="321.75" stroke="#1a1a1a" stroke-width="1.0" />
<text transform="translate(50.50,325.2) rotate(-90)" font-size="6.55" font-weight="bold" text-anchor="end" fill="#222">CTG-0911</text>
<line x1="55.21" y1="318.55" x2="55.21" y2="321.75" stroke="#1a1a1a" stroke-width="1.0" />
<text transform="translate(57.41,325.2) rotate(-90)" font-size="6.55" font-weight="bold" text-anchor="end" fill="#222">ME13988</text>
<line x1="62.13" y1="318.55" x2="62.13" y2="321.75" stroke="#1a1a1a" stroke-width="1.0" />
<text transform="translate(64.33,325.2) rotate(-90)" font-size="6.55" font-weight="bold" text-anchor="end" fill="#222">ME12038</text>
<line x1="69.04" y1="318.55" x2="69.04" y2="321.75" stroke="#1a1a1a" stroke-width="1.0" />
<text transform="translate(71.24,325.2) rotate(-90)" font-size="6.55" font-weight="bold" text-anchor="end" fill="#222">ME13993</text>
<line x1="75.95" y1="318.55" x2="75.95" y2="321.75" stroke="#1a1a1a" stroke-width="1.0" />
<text transform="translate(78.15,325.2) rotate(-90)" font-size="6.55" font-weight="bold" text-anchor="end" fill="#222">CTG-1769</text>
<line x1="82.87" y1="318.55" x2="82.87" y2="321.75" stroke="#1a1a1a" stroke-width="1.0" />
<text transform="translate(85.07,325.2) rotate(-90)" font-size="6.55" font-weight="bold" text-anchor="end" fill="#222">CTG-0973</text>
<line x1="89.78" y1="318.55" x2="89.78" y2="321.75" stroke="#1a1a1a" stroke-width="1.0" />
<text transform="translate(91.98,325.2) rotate(-90)" font-size="6.55" font-weight="bold" text-anchor="end" fill="#222">CTG-0202</text>
<line x1="96.69" y1="318.55" x2="96.69" y2="321.75" stroke="#1a1a1a" stroke-width="1.0" />
<text transform="translate(98.89,325.2) rotate(-90)" font-size="6.55" font-weight="bold" text-anchor="end" fill="#222">CTG-0178</text>
<line x1="103.60" y1="318.55" x2="103.60" y2="321.75" stroke="#1a1a1a" stroke-width="1.0" />
<text transform="translate(105.80,325.2) rotate(-90)" font-size="6.55" font-weight="bold" text-anchor="end" fill="#222">CTG-2026</text>
<line x1="110.52" y1="318.55" x2="110.52" y2="321.75" stroke="#1a1a1a" stroke-width="1.0" />
<text transform="translate(112.72,325.2) rotate(-90)" font-size="6.55" font-weight="bold" text-anchor="end" fill="#222">CTG-1762</text>
<line x1="117.43" y1="318.55" x2="117.43" y2="321.75" stroke="#1a1a1a" stroke-width="1.0" />
<text transform="translate(119.63,325.2) rotate(-90)" font-size="6.55" font-weight="bold" text-anchor="end" fill="#222">CTG-0838</text>
<line x1="124.34" y1="318.55" x2="124.34" y2="321.75" stroke="#1a1a1a" stroke-width="1.0" />
<text transform="translate(126.54,325.2) rotate(-90)" font-size="6.55" font-weight="bold" text-anchor="end" fill="#222">CTG-2011</text>
<line x1="131.26" y1="318.55" x2="131.26" y2="321.75" stroke="#1a1a1a" stroke-width="1.0" />
<text transform="translate(133.46,325.2) rotate(-90)" font-size="6.55" font-weight="bold" text-anchor="end" fill="#222">CTG-1612</text>
<line x1="138.17" y1="318.55" x2="138.17" y2="321.75" stroke="#1a1a1a" stroke-width="1.0" />
<text transform="translate(140.37,325.2) rotate(-90)" font-size="6.55" font-weight="bold" text-anchor="end" fill="#222">CTG-0159</text>
<line x1="145.08" y1="318.55" x2="145.08" y2="321.75" stroke="#1a1a1a" stroke-width="1.0" />
<text transform="translate(147.28,325.2) rotate(-90)" font-size="6.55" font-weight="bold" text-anchor="end" fill="#222">CTG-2539</text>
<line x1="152.00" y1="318.55" x2="152.00" y2="321.75" stroke="#1a1a1a" stroke-width="1.0" />
<text transform="translate(154.20,325.2) rotate(-90)" font-size="6.55" font-weight="bold" text-anchor="end" fill="#222">CTG-0743</text>
<line x1="158.91" y1="318.55" x2="158.91" y2="321.75" stroke="#1a1a1a" stroke-width="1.0" />
<text transform="translate(161.11,325.2) rotate(-90)" font-size="6.55" font-weight="bold" text-anchor="end" fill="#222">CTG-1680</text>
<line x1="165.82" y1="318.55" x2="165.82" y2="321.75" stroke="#1a1a1a" stroke-width="1.0" />
<text transform="translate(168.02,325.2) rotate(-90)" font-size="6.55" font-weight="bold" text-anchor="end" fill="#222">CTG-1879</text>
<line x1="172.73" y1="318.55" x2="172.73" y2="321.75" stroke="#1a1a1a" stroke-width="1.0" />
<text transform="translate(174.93,325.2) rotate(-90)" font-size="6.55" font-weight="bold" text-anchor="end" fill="#222">CTG-1878</text>
<line x1="179.65" y1="318.55" x2="179.65" y2="321.75" stroke="#1a1a1a" stroke-width="1.0" />
<text transform="translate(181.85,325.2) rotate(-90)" font-size="6.55" font-weight="bold" text-anchor="end" fill="#222">CTG-0808</text>
<line x1="186.56" y1="318.55" x2="186.56" y2="321.75" stroke="#1a1a1a" stroke-width="1.0" />
<text transform="translate(188.76,325.2) rotate(-90)" font-size="6.55" font-weight="bold" text-anchor="end" fill="#222">CTG-0860</text>
<line x1="193.47" y1="318.55" x2="193.47" y2="321.75" stroke="#1a1a1a" stroke-width="1.0" />
<text transform="translate(195.67,325.2) rotate(-90)" font-size="6.55" font-weight="bold" text-anchor="end" fill="#222">CTG-1535</text>
<line x1="200.39" y1="318.55" x2="200.39" y2="321.75" stroke="#1a1a1a" stroke-width="1.0" />
<text transform="translate(202.59,325.2) rotate(-90)" font-size="6.55" font-weight="bold" text-anchor="end" fill="#222">CTG-2393</text>
<line x1="207.30" y1="318.55" x2="207.30" y2="321.75" stroke="#1a1a1a" stroke-width="1.0" />
<text transform="translate(209.50,325.2) rotate(-90)" font-size="6.55" font-weight="bold" text-anchor="end" fill="#222">CTG-1613</text>
<line x1="214.21" y1="318.55" x2="214.21" y2="321.75" stroke="#1a1a1a" stroke-width="1.0" />
<text transform="translate(216.41,325.2) rotate(-90)" font-size="6.55" font-weight="bold" text-anchor="end" fill="#222">CTG-0160</text>
<line x1="221.13" y1="318.55" x2="221.13" y2="321.75" stroke="#1a1a1a" stroke-width="1.0" />
<text transform="translate(223.33,325.2) rotate(-90)" font-size="6.55" font-weight="bold" text-anchor="end" fill="#222">CTG-0363</text>
<line x1="228.04" y1="318.55" x2="228.04" y2="321.75" stroke="#1a1a1a" stroke-width="1.0" />
<text transform="translate(230.24,325.2) rotate(-90)" font-size="6.55" font-weight="bold" text-anchor="end" fill="#222">CTG-0454</text>
<line x1="234.95" y1="318.55" x2="234.95" y2="321.75" stroke="#1a1a1a" stroke-width="1.0" />
<text transform="translate(237.15,325.2) rotate(-90)" font-size="6.55" font-weight="bold" text-anchor="end" fill="#222">CTG-2536</text>
<line x1="241.87" y1="318.55" x2="241.87" y2="321.75" stroke="#1a1a1a" stroke-width="1.0" />
<text transform="translate(244.06,325.2) rotate(-90)" font-size="6.55" font-weight="bold" text-anchor="end" fill="#222">CTG-1212</text>
<line x1="248.78" y1="318.55" x2="248.78" y2="321.75" stroke="#1a1a1a" stroke-width="1.0" />
<text transform="translate(250.98,325.2) rotate(-90)" font-size="6.55" font-weight="bold" text-anchor="end" fill="#222">CTG-1353</text>
<line x1="255.69" y1="318.55" x2="255.69" y2="321.75" stroke="#1a1a1a" stroke-width="1.0" />
<text transform="translate(257.89,325.2) rotate(-90)" font-size="6.55" font-weight="bold" text-anchor="end" fill="#222">CTG-1855</text>
<line x1="262.60" y1="318.55" x2="262.60" y2="321.75" stroke="#1a1a1a" stroke-width="1.0" />
<text transform="translate(264.80,325.2) rotate(-90)" font-size="6.55" font-weight="bold" text-anchor="end" fill="#222">CTG-0848</text>
<line x1="269.52" y1="318.55" x2="269.52" y2="321.75" stroke="#1a1a1a" stroke-width="1.0" />
<text transform="translate(271.72,325.2) rotate(-90)" font-size="6.55" font-weight="bold" text-anchor="end" fill="#222">CTG-1441</text>
<line x1="276.43" y1="318.55" x2="276.43" y2="321.75" stroke="#1a1a1a" stroke-width="1.0" />
<text transform="translate(278.63,325.2) rotate(-90)" font-size="6.55" font-weight="bold" text-anchor="end" fill="#222">CTG-0852</text>
<line x1="283.34" y1="318.55" x2="283.34" y2="321.75" stroke="#1a1a1a" stroke-width="1.0" />
<text transform="translate(285.54,325.2) rotate(-90)" font-size="6.55" font-weight="bold" text-anchor="end" fill="#222">CTG-0167</text>
<line x1="290.26" y1="318.55" x2="290.26" y2="321.75" stroke="#1a1a1a" stroke-width="1.0" />
<text transform="translate(292.46,325.2) rotate(-90)" font-size="6.55" font-weight="bold" text-anchor="end" fill="#222">CTG-2540</text>
<line x1="297.17" y1="318.55" x2="297.17" y2="321.75" stroke="#1a1a1a" stroke-width="1.0" />
<text transform="translate(299.37,325.2) rotate(-90)" font-size="6.55" font-weight="bold" text-anchor="end" fill="#222">CTG-0165</text>
<line x1="304.08" y1="318.55" x2="304.08" y2="321.75" stroke="#1a1a1a" stroke-width="1.0" />
<text transform="translate(306.28,325.2) rotate(-90)" font-size="6.55" font-weight="bold" text-anchor="end" fill="#222">CTG-0192</text>
<line x1="311.00" y1="318.55" x2="311.00" y2="321.75" stroke="#1a1a1a" stroke-width="1.0" />
<text transform="translate(313.19,325.2) rotate(-90)" font-size="6.55" font-weight="bold" text-anchor="end" fill="#222">LU5187</text>
<line x1="317.91" y1="318.55" x2="317.91" y2="321.75" stroke="#1a1a1a" stroke-width="1.0" />
<text transform="translate(320.11,325.2) rotate(-90)" font-size="6.55" font-weight="bold" text-anchor="end" fill="#222">CTG-1444</text>
<line x1="324.82" y1="318.55" x2="324.82" y2="321.75" stroke="#1a1a1a" stroke-width="1.0" />
<text transform="translate(327.02,325.2) rotate(-90)" font-size="6.55" font-weight="bold" text-anchor="end" fill="#222">LU0697</text>
<line x1="331.73" y1="318.55" x2="331.73" y2="321.75" stroke="#1a1a1a" stroke-width="1.0" />
<text transform="translate(333.93,325.2) rotate(-90)" font-size="6.55" font-weight="bold" text-anchor="end" fill="#222">CTG-0828</text>
<line x1="338.65" y1="318.55" x2="338.65" y2="321.75" stroke="#1a1a1a" stroke-width="1.0" />
<text transform="translate(340.85,325.2) rotate(-90)" font-size="6.55" font-weight="bold" text-anchor="end" fill="#222">CTG-1361</text>
<line x1="345.56" y1="318.55" x2="345.56" y2="321.75" stroke="#1a1a1a" stroke-width="1.0" />
<text transform="translate(347.76,325.2) rotate(-90)" font-size="6.55" font-weight="bold" text-anchor="end" fill="#222">CTG-1502</text>
<line x1="352.47" y1="318.55" x2="352.47" y2="321.75" stroke="#1a1a1a" stroke-width="1.0" />
<text transform="translate(354.67,325.2) rotate(-90)" font-size="6.55" font-weight="bold" text-anchor="end" fill="#222">LU5200</text>
<line x1="359.39" y1="318.55" x2="359.39" y2="321.75" stroke="#1a1a1a" stroke-width="1.0" />
<text transform="translate(361.59,325.2) rotate(-90)" font-size="6.55" font-weight="bold" text-anchor="end" fill="#222">LU2505</text>
<line x1="366.30" y1="318.55" x2="366.30" y2="321.75" stroke="#1a1a1a" stroke-width="1.0" />
<text transform="translate(368.50,325.2) rotate(-90)" font-size="6.55" font-weight="bold" text-anchor="end" fill="#222">CTG-0869</text>
<line x1="373.21" y1="318.55" x2="373.21" y2="321.75" stroke="#1a1a1a" stroke-width="1.0" />
<text transform="translate(375.41,325.2) rotate(-90)" font-size="6.55" font-weight="bold" text-anchor="end" fill="#222">CTG-1019</text>
<line x1="380.13" y1="318.55" x2="380.13" y2="321.75" stroke="#1a1a1a" stroke-width="1.0" />
<text transform="translate(382.33,325.2) rotate(-90)" font-size="6.55" font-weight="bold" text-anchor="end" fill="#222">CTG-2279</text>
<line x1="387.04" y1="318.55" x2="387.04" y2="321.75" stroke="#1a1a1a" stroke-width="1.0" />
<text transform="translate(389.24,325.2) rotate(-90)" font-size="6.55" font-weight="bold" text-anchor="end" fill="#222">CTG-2208</text>
<line x1="393.95" y1="318.55" x2="393.95" y2="321.75" stroke="#1a1a1a" stroke-width="1.0" />
<text transform="translate(396.15,325.2) rotate(-90)" font-size="6.55" font-weight="bold" text-anchor="end" fill="#222">CTG-0017</text>
<line x1="400.86" y1="318.55" x2="400.86" y2="321.75" stroke="#1a1a1a" stroke-width="1.0" />
<text transform="translate(403.06,325.2) rotate(-90)" font-size="6.55" font-weight="bold" text-anchor="end" fill="#222">CTG-1941</text>
<line x1="407.78" y1="318.55" x2="407.78" y2="321.75" stroke="#1a1a1a" stroke-width="1.0" />
<text transform="translate(409.98,325.2) rotate(-90)" font-size="6.55" font-weight="bold" text-anchor="end" fill="#222">CTG-0652</text>
<line x1="414.69" y1="318.55" x2="414.69" y2="321.75" stroke="#1a1a1a" stroke-width="1.0" />
<text transform="translate(416.89,325.2) rotate(-90)" font-size="6.55" font-weight="bold" text-anchor="end" fill="#222">CTG-0888</text>
<line x1="421.60" y1="318.55" x2="421.60" y2="321.75" stroke="#1a1a1a" stroke-width="1.0" />
<text transform="translate(423.80,325.2) rotate(-90)" font-size="6.55" font-weight="bold" text-anchor="end" fill="#222">CTG-0670</text>
<line x1="428.52" y1="318.55" x2="428.52" y2="321.75" stroke="#1a1a1a" stroke-width="1.0" />
<text transform="translate(430.72,325.2) rotate(-90)" font-size="6.55" font-weight="bold" text-anchor="end" fill="#222">CTG-1340</text>
<line x1="435.43" y1="318.55" x2="435.43" y2="321.75" stroke="#1a1a1a" stroke-width="1.0" />
<text transform="translate(437.63,325.2) rotate(-90)" font-size="6.55" font-weight="bold" text-anchor="end" fill="#222">CTG-0437</text>
<line x1="442.34" y1="318.55" x2="442.34" y2="321.75" stroke="#1a1a1a" stroke-width="1.0" />
<text transform="translate(444.54,325.2) rotate(-90)" font-size="6.55" font-weight="bold" text-anchor="end" fill="#222">CTG-1017</text>
<line x1="449.26" y1="318.55" x2="449.26" y2="321.75" stroke="#1a1a1a" stroke-width="1.0" />
<text transform="translate(451.46,325.2) rotate(-90)" font-size="6.55" font-weight="bold" text-anchor="end" fill="#222">CTG-1520</text>
<line x1="456.17" y1="318.55" x2="456.17" y2="321.75" stroke="#1a1a1a" stroke-width="1.0" />
<text transform="translate(458.37,325.2) rotate(-90)" font-size="6.55" font-weight="bold" text-anchor="end" fill="#222">CTG-1167</text>
<line x1="463.08" y1="318.55" x2="463.08" y2="321.75" stroke="#1a1a1a" stroke-width="1.0" />
<text transform="translate(465.28,325.2) rotate(-90)" font-size="6.55" font-weight="bold" text-anchor="end" fill="#222">CTG-1883</text>
<line x1="469.99" y1="318.55" x2="469.99" y2="321.75" stroke="#1a1a1a" stroke-width="1.0" />
<text transform="translate(472.19,325.2) rotate(-90)" font-size="6.55" font-weight="bold" text-anchor="end" fill="#222">CTG-1153</text>
<line x1="476.91" y1="318.55" x2="476.91" y2="321.75" stroke="#1a1a1a" stroke-width="1.0" />
<text transform="translate(479.11,325.2) rotate(-90)" font-size="6.55" font-weight="bold" text-anchor="end" fill="#222">CTG-0612</text>
<line x1="483.82" y1="318.55" x2="483.82" y2="321.75" stroke="#1a1a1a" stroke-width="1.0" />
<text transform="translate(486.02,325.2) rotate(-90)" font-size="6.55" font-weight="bold" text-anchor="end" fill="#222">CTG-1714</text>
<line x1="490.73" y1="318.55" x2="490.73" y2="321.75" stroke="#1a1a1a" stroke-width="1.0" />
<text transform="translate(492.93,325.2) rotate(-90)" font-size="6.55" font-weight="bold" text-anchor="end" fill="#222">CTG-1106</text>
<line x1="497.65" y1="318.55" x2="497.65" y2="321.75" stroke="#1a1a1a" stroke-width="1.0" />
<text transform="translate(499.85,325.2) rotate(-90)" font-size="6.55" font-weight="bold" text-anchor="end" fill="#222">CTG-2215</text>
<line x1="504.56" y1="318.55" x2="504.56" y2="321.75" stroke="#1a1a1a" stroke-width="1.0" />
<text transform="translate(506.76,325.2) rotate(-90)" font-size="6.55" font-weight="bold" text-anchor="end" fill="#222">CTG-1242</text>
<line x1="511.47" y1="318.55" x2="511.47" y2="321.75" stroke="#1a1a1a" stroke-width="1.0" />
<text transform="translate(513.67,325.2) rotate(-90)" font-size="6.55" font-weight="bold" text-anchor="end" fill="#222">CTG-2055</text>
<text x="103.60" y="363.00" font-size="6.8" text-anchor="middle" font-weight="normal" fill="#222" >^</text>
<text x="179.65" y="363.00" font-size="6.8" text-anchor="middle" font-weight="normal" fill="#222" >^</text>
<text x="138.17" y="363.40" font-size="7.0" text-anchor="middle" font-weight="bold" fill="#222" >*</text>
<text x="165.82" y="363.40" font-size="7.0" text-anchor="middle" font-weight="bold" fill="#222" >*</text>
<text x="193.47" y="363.40" font-size="7.0" text-anchor="middle" font-weight="bold" fill="#222" >*</text>
<text x="214.21" y="363.40" font-size="7.0" text-anchor="middle" font-weight="bold" fill="#222" >*</text>
<text x="228.04" y="363.40" font-size="7.0" text-anchor="middle" font-weight="bold" fill="#222" >*</text>
<text x="241.87" y="363.40" font-size="7.0" text-anchor="middle" font-weight="bold" fill="#222" >*</text>
<text x="248.78" y="363.40" font-size="7.0" text-anchor="middle" font-weight="bold" fill="#222" >*</text>
<text x="255.69" y="363.40" font-size="7.0" text-anchor="middle" font-weight="bold" fill="#222" >*</text>
<text x="324.82" y="363.40" font-size="7.0" text-anchor="middle" font-weight="bold" fill="#222" >*</text>
<text x="265.60" y="372.50" font-size="8.9" text-anchor="middle" font-weight="normal" fill="#222" >PDX model ID</text>
<text transform="translate(7.9,248.2) rotate(-90)" font-size="8.5" text-anchor="middle" fill="#222">Tumor volume change (%)</text>
<rect x="448" y="160.00" width="10.1" height="4.8" fill="#f7982e"/>
<text x="461.80" y="165.00" font-size="7.6" text-anchor="start" font-weight="normal" fill="#222" >Melanoma high</text>
<rect x="448" y="169.55" width="10.1" height="4.8" fill="#5b8dd4"/>
<text x="461.80" y="174.55" font-size="7.6" text-anchor="start" font-weight="normal" fill="#222" >NSCLC low</text>
<rect x="448" y="179.10" width="10.1" height="4.8" fill="#3f4ea8"/>
<text x="461.80" y="184.10" font-size="7.6" text-anchor="start" font-weight="normal" fill="#222" >NSCLC high</text>
<rect x="448" y="188.65" width="10.1" height="4.8" fill="#c58ccd"/>
<text x="461.80" y="193.65" font-size="7.6" text-anchor="start" font-weight="normal" fill="#222" >TNBC low</text>
<rect x="448" y="198.20" width="10.1" height="4.8" fill="#9142a6"/>
<text x="461.80" y="203.20" font-size="7.6" text-anchor="start" font-weight="normal" fill="#222" >TNBC high</text>
<polygon points="39.40,477.51 43.58,477.42 47.76,477.32 51.94,477.22 56.12,477.10 60.30,476.98 64.48,476.85 68.66,476.70 72.84,476.54 77.02,476.37 81.20,476.17 85.38,475.95 89.56,475.70 93.74,475.42 97.92,475.10 102.10,474.73 106.28,474.30 110.46,473.80 114.64,473.22 118.82,472.54 123.00,471.75 127.18,470.83 131.36,469.77 135.54,468.56 139.72,467.20 143.90,465.70 148.08,464.06 152.26,462.31 156.44,460.46 160.62,458.52 164.80,456.50 168.98,454.43 173.16,452.30 177.34,450.14 181.52,447.94 185.70,445.71 189.88,443.45 194.06,441.17 198.24,438.88 202.42,436.57 206.60,434.25 206.60,480.69 202.42,480.83 198.24,480.98 194.06,481.14 189.88,481.33 185.70,481.53 181.52,481.76 177.34,482.01 173.16,482.30 168.98,482.64 164.80,483.02 160.62,483.47 156.44,483.99 152.26,484.59 148.08,485.30 143.90,486.12 139.72,487.08 135.54,488.18 131.36,489.43 127.18,490.82 123.00,492.36 118.82,494.03 114.64,495.81 110.46,497.69 106.28,499.65 102.10,501.68 97.92,503.77 93.74,505.90 89.56,508.08 85.38,510.29 81.20,512.53 77.02,514.79 72.84,517.07 68.66,519.37 64.48,521.68 60.30,524.01 56.12,526.34 51.94,528.69 47.76,531.04 43.58,533.41 39.40,535.77" fill="#000" fill-opacity="0.068"/>
<polygon points="48.30,416.81 51.64,418.03 54.98,419.25 58.32,420.46 61.66,421.65 65.00,422.83 68.34,424.00 71.68,425.16 75.02,426.29 78.36,427.41 81.70,428.50 85.04,429.57 88.38,430.61 91.72,431.61 95.06,432.57 98.40,433.49 101.74,434.36 105.08,435.16 108.42,435.89 111.76,436.53 115.10,437.07 118.44,437.50 121.78,437.79 125.12,437.92 128.46,437.87 131.80,437.63 135.14,437.18 138.48,436.52 141.82,435.63 145.16,434.52 148.50,433.20 151.84,431.70 155.18,430.03 158.52,428.20 161.86,426.25 165.20,424.18 168.54,422.02 171.88,419.77 175.22,417.45 178.56,415.08 181.90,412.65 181.90,480.35 178.56,479.42 175.22,478.54 171.88,477.71 168.54,476.96 165.20,476.29 161.86,475.72 158.52,475.26 155.18,474.93 151.84,474.75 148.50,474.75 145.16,474.93 141.82,475.32 138.48,475.92 135.14,476.75 131.80,477.79 128.46,479.05 125.12,480.50 121.78,482.13 118.44,483.91 115.10,485.83 111.76,487.86 108.42,490.00 105.08,492.23 101.74,494.52 98.40,496.88 95.06,499.30 91.72,501.76 88.38,504.26 85.04,506.79 81.70,509.35 78.36,511.94 75.02,514.55 71.68,517.18 68.34,519.83 65.00,522.49 61.66,525.17 58.32,527.86 54.98,530.56 51.64,533.27 48.30,535.99" fill="#000" fill-opacity="0.068"/>
<polygon points="142.30,385.30 143.77,385.30 145.23,386.57 146.70,388.67 148.16,390.75 149.62,392.82 151.09,394.87 152.56,396.91 154.02,398.93 155.49,400.93 156.95,402.90 158.42,404.84 159.88,406.76 161.34,408.64 162.81,410.47 164.28,412.26 165.74,413.99 167.21,415.66 168.67,417.26 170.14,418.78 171.60,420.20 173.06,421.52 174.53,422.72 176.00,423.80 177.46,424.73 178.93,425.52 180.39,426.15 181.86,426.63 183.32,426.96 184.79,427.15 186.25,427.21 187.72,427.14 189.18,426.97 190.65,426.69 192.11,426.32 193.58,425.88 195.04,425.38 196.50,424.81 197.97,424.19 199.44,423.53 200.90,422.83 200.90,481.85 199.44,479.95 197.97,478.09 196.50,476.28 195.04,474.51 193.58,472.81 192.11,471.17 190.65,469.61 189.18,468.13 187.72,466.76 186.25,465.49 184.79,464.35 183.32,463.34 181.86,462.48 180.39,461.76 178.93,461.20 177.46,460.79 176.00,460.52 174.53,460.39 173.06,460.40 171.60,460.52 170.14,460.74 168.67,461.06 167.21,461.46 165.74,461.94 164.28,462.47 162.81,463.06 161.34,463.70 159.88,464.38 158.42,465.10 156.95,465.84 155.49,466.62 154.02,467.42 152.56,468.24 151.09,469.08 149.62,469.93 148.16,470.81 146.70,471.69 145.23,472.59 143.77,473.50 142.30,474.41" fill="#000" fill-opacity="0.068"/>
<line x1="31.00" y1="385.20" x2="31.00" y2="544.50" stroke="#1a1a1a" stroke-width="1.3" />
<line x1="30.40" y1="543.90" x2="215.80" y2="543.90" stroke="#1a1a1a" stroke-width="1.3" />
<line x1="27.70" y1="537.50" x2="31.00" y2="537.50" stroke="#1a1a1a" stroke-width="1.1" />
<text x="26.20" y="540.40" font-size="7.3" text-anchor="end" font-weight="bold" fill="#222" >0</text>
<line x1="27.70" y1="489.40" x2="31.00" y2="489.40" stroke="#1a1a1a" stroke-width="1.1" />
<text x="26.20" y="492.30" font-size="7.3" text-anchor="end" font-weight="bold" fill="#222" >50</text>
<line x1="27.70" y1="441.30" x2="31.00" y2="441.30" stroke="#1a1a1a" stroke-width="1.1" />
<text x="26.20" y="444.20" font-size="7.3" text-anchor="end" font-weight="bold" fill="#222" >100</text>
<line x1="27.70" y1="393.20" x2="31.00" y2="393.20" stroke="#1a1a1a" stroke-width="1.1" />
<text x="26.20" y="396.10" font-size="7.3" text-anchor="end" font-weight="bold" fill="#222" >150</text>
<line x1="54.60" y1="543.90" x2="54.60" y2="548.00" stroke="#1a1a1a" stroke-width="1.1" />
<text x="54.60" y="555.90" font-size="7.3" text-anchor="middle" font-weight="bold" fill="#222" >0</text>
<line x1="91.70" y1="543.90" x2="91.70" y2="548.00" stroke="#1a1a1a" stroke-width="1.1" />
<text x="91.70" y="555.90" font-size="7.3" text-anchor="middle" font-weight="bold" fill="#222" >2</text>
<line x1="128.80" y1="543.90" x2="128.80" y2="548.00" stroke="#1a1a1a" stroke-width="1.1" />
<text x="128.80" y="555.90" font-size="7.3" text-anchor="middle" font-weight="bold" fill="#222" >4</text>
<line x1="165.90" y1="543.90" x2="165.90" y2="548.00" stroke="#1a1a1a" stroke-width="1.1" />
<text x="165.90" y="555.90" font-size="7.3" text-anchor="middle" font-weight="bold" fill="#222" >6</text>
<line x1="203.00" y1="543.90" x2="203.00" y2="548.00" stroke="#1a1a1a" stroke-width="1.1" />
<text x="203.00" y="555.90" font-size="7.3" text-anchor="middle" font-weight="bold" fill="#222" >8</text>
<text transform="translate(8.3,460.3) rotate(-90)" font-size="9.3" text-anchor="middle" fill="#222">TGI (%)</text>
<text x="57.3" y="567.7" font-size="9.1" fill="#222">Log<tspan font-size="6.5" dy="3.3">2</tspan><tspan dy="-3.3">(CD228 RNA-seq TPM+0.1)</tspan></text>
<polyline points="39.20,506.70 206.50,457.50" stroke="#2a3688" stroke-width="1.4" fill="none" />
<polyline points="49.20,476.20 181.90,446.50" stroke="#c64a93" stroke-width="1.2" fill="none" />
<polyline points="142.10,428.30 200.80,452.30" stroke="#e39a48" stroke-width="1.15" fill="none" />
<path d="M102.10,393.70L108.70,393.70M103.07,391.37L107.73,396.03M105.40,390.40L105.40,397.00M107.73,391.37L103.07,396.03" stroke="#a93f9a" stroke-width="0.95" fill="none"/>
<circle cx="105.40" cy="393.70" r="1.5" fill="#a93f9a"/>
<path d="M113.60,427.70L120.20,427.70M114.57,425.37L119.23,430.03M116.90,424.40L116.90,431.00M119.23,425.37L114.57,430.03" stroke="#a93f9a" stroke-width="0.95" fill="none"/>
<circle cx="116.90" cy="427.70" r="1.5" fill="#a93f9a"/>
<path d="M121.90,430.20L128.50,430.20M122.87,427.87L127.53,432.53M125.20,426.90L125.20,433.50M127.53,427.87L122.87,432.53" stroke="#a93f9a" stroke-width="0.95" fill="none"/>
<circle cx="125.20" cy="430.20" r="1.5" fill="#a93f9a"/>
<path d="M45.00,467.90L51.60,467.90M45.97,465.57L50.63,470.23M48.30,464.60L48.30,471.20M50.63,465.57L45.97,470.23" stroke="#a93f9a" stroke-width="0.95" fill="none"/>
<circle cx="48.30" cy="467.90" r="1.5" fill="#a93f9a"/>
<path d="M124.80,495.20L131.40,495.20M125.77,492.87L130.43,497.53M128.10,491.90L128.10,498.50M130.43,492.87L125.77,497.53" stroke="#a93f9a" stroke-width="0.95" fill="none"/>
<circle cx="128.10" cy="495.20" r="1.5" fill="#a93f9a"/>
<path d="M87.90,513.50L94.50,513.50M88.87,511.17L93.53,515.83M91.20,510.20L91.20,516.80M93.53,511.17L88.87,515.83" stroke="#a93f9a" stroke-width="0.95" fill="none"/>
<circle cx="91.20" cy="513.50" r="1.5" fill="#a93f9a"/>
<path d="M95.50,536.70L102.10,536.70M96.47,534.37L101.13,539.03M98.80,533.40L98.80,540.00M101.13,534.37L96.47,539.03" stroke="#a93f9a" stroke-width="0.95" fill="none"/>
<circle cx="98.80" cy="536.70" r="1.5" fill="#a93f9a"/>
<path d="M178.60,393.10L185.20,393.10M179.57,390.77L184.23,395.43M181.90,389.80L181.90,396.40M184.23,390.77L179.57,395.43" stroke="#a93f9a" stroke-width="0.95" fill="none"/>
<circle cx="181.90" cy="393.10" r="1.5" fill="#a93f9a"/>
<path d="M131.70,423.50L138.30,423.50M132.67,421.17L137.33,425.83M135.00,420.20L135.00,426.80M137.33,421.17L132.67,425.83" stroke="#a93f9a" stroke-width="0.95" fill="none"/>
<circle cx="135.00" cy="423.50" r="1.5" fill="#a93f9a"/>
<path d="M157.10,421.50L163.70,421.50M158.07,419.17L162.73,423.83M160.40,418.20L160.40,424.80M162.73,419.17L158.07,423.83" stroke="#a93f9a" stroke-width="0.95" fill="none"/>
<circle cx="160.40" cy="421.50" r="1.5" fill="#a93f9a"/>
<path d="M149.40,426.30L156.00,426.30M150.37,423.97L155.03,428.63M152.70,423.00L152.70,429.60M155.03,423.97L150.37,428.63" stroke="#a93f9a" stroke-width="0.95" fill="none"/>
<circle cx="152.70" cy="426.30" r="1.5" fill="#a93f9a"/>
<path d="M152.30,428.30L158.90,428.30M153.27,425.97L157.93,430.63M155.60,425.00L155.60,431.60M157.93,425.97L153.27,430.63" stroke="#a93f9a" stroke-width="0.95" fill="none"/>
<circle cx="155.60" cy="428.30" r="1.5" fill="#a93f9a"/>
<path d="M121.50,429.60L128.10,429.60M122.47,427.27L127.13,431.93M124.80,426.30L124.80,432.90M127.13,427.27L122.47,431.93" stroke="#a93f9a" stroke-width="0.95" fill="none"/>
<circle cx="124.80" cy="429.60" r="1.5" fill="#a93f9a"/>
<path d="M128.20,434.00L134.80,434.00M129.17,431.67L133.83,436.33M131.50,430.70L131.50,437.30M133.83,431.67L129.17,436.33" stroke="#a93f9a" stroke-width="0.95" fill="none"/>
<circle cx="131.50" cy="434.00" r="1.5" fill="#a93f9a"/>
<path d="M168.20,434.00L174.80,434.00M169.17,431.67L173.83,436.33M171.50,430.70L171.50,437.30M173.83,431.67L169.17,436.33" stroke="#a93f9a" stroke-width="0.95" fill="none"/>
<circle cx="171.50" cy="434.00" r="1.5" fill="#a93f9a"/>
<path d="M169.60,442.70L176.20,442.70M170.57,440.37L175.23,445.03M172.90,439.40L172.90,446.00M175.23,440.37L170.57,445.03" stroke="#a93f9a" stroke-width="0.95" fill="none"/>
<circle cx="172.90" cy="442.70" r="1.5" fill="#a93f9a"/>
<path d="M135.90,451.90L142.50,451.90M136.87,449.57L141.53,454.23M139.20,448.60L139.20,455.20M141.53,449.57L136.87,454.23" stroke="#a93f9a" stroke-width="0.95" fill="none"/>
<circle cx="139.20" cy="451.90" r="1.5" fill="#a93f9a"/>
<path d="M145.50,451.30L152.10,451.30M146.47,448.97L151.13,453.63M148.80,448.00L148.80,454.60M151.13,448.97L146.47,453.63" stroke="#a93f9a" stroke-width="0.95" fill="none"/>
<circle cx="148.80" cy="451.30" r="1.5" fill="#a93f9a"/>
<path d="M172.50,451.30L179.10,451.30M173.47,448.97L178.13,453.63M175.80,448.00L175.80,454.60M178.13,448.97L173.47,453.63" stroke="#a93f9a" stroke-width="0.95" fill="none"/>
<circle cx="175.80" cy="451.30" r="1.5" fill="#a93f9a"/>
<path d="M172.90,502.10L179.50,502.10M173.87,499.77L178.53,504.43M176.20,498.80L176.20,505.40M178.53,499.77L173.87,504.43" stroke="#a93f9a" stroke-width="0.95" fill="none"/>
<circle cx="176.20" cy="502.10" r="1.5" fill="#a93f9a"/>
<path d="M137.90,536.70L144.50,536.70M138.87,534.37L143.53,539.03M141.20,533.40L141.20,540.00M143.53,534.37L138.87,539.03" stroke="#a93f9a" stroke-width="0.95" fill="none"/>
<circle cx="141.20" cy="536.70" r="1.5" fill="#a93f9a"/>
<path d="M170.20,536.70L176.80,536.70M171.17,534.37L175.83,539.03M173.50,533.40L173.50,540.00M175.83,534.37L171.17,539.03" stroke="#a93f9a" stroke-width="0.95" fill="none"/>
<circle cx="173.50" cy="536.70" r="1.5" fill="#a93f9a"/>
<polygon points="36.40,469.20 42.00,469.20 39.20,464.20" fill="#2a3688" />
<polygon points="46.80,481.30 52.40,481.30 49.60,476.30" fill="#2a3688" />
<polygon points="59.50,492.70 65.10,492.70 62.30,487.70" fill="#2a3688" />
<polygon points="82.00,485.80 87.60,485.80 84.80,480.80" fill="#2a3688" />
<polygon points="94.90,482.70 100.50,482.70 97.70,477.70" fill="#2a3688" />
<polygon points="106.40,453.30 112.00,453.30 109.20,448.30" fill="#2a3688" />
<polygon points="123.40,453.30 129.00,453.30 126.20,448.30" fill="#2a3688" />
<polygon points="112.40,467.90 118.00,467.90 115.20,462.90" fill="#2a3688" />
<polygon points="111.80,480.80 117.40,480.80 114.60,475.80" fill="#2a3688" />
<polygon points="114.70,481.70 120.30,481.70 117.50,476.70" fill="#2a3688" />
<polygon points="125.30,467.90 130.90,467.90 128.10,462.90" fill="#2a3688" />
<polygon points="69.90,538.50 75.50,538.50 72.70,533.50" fill="#2a3688" />
<polygon points="96.00,539.00 101.60,539.00 98.80,534.00" fill="#2a3688" />
<polygon points="125.30,529.80 130.90,529.80 128.10,524.80" fill="#2a3688" />
<polygon points="124.90,536.00 130.50,536.00 127.70,531.00" fill="#2a3688" />
<polygon points="142.60,436.90 148.20,436.90 145.40,431.90" fill="#2a3688" />
<polygon points="180.70,433.50 186.30,433.50 183.50,428.50" fill="#2a3688" />
<polygon points="192.20,437.70 197.80,437.70 195.00,432.70" fill="#2a3688" />
<polygon points="153.70,443.10 159.30,443.10 156.50,438.10" fill="#2a3688" />
<polygon points="138.00,457.50 143.60,457.50 140.80,452.50" fill="#2a3688" />
<polygon points="142.60,464.60 148.20,464.60 145.40,459.60" fill="#2a3688" />
<polygon points="154.70,464.20 160.30,464.20 157.50,459.20" fill="#2a3688" />
<polygon points="127.80,475.00 133.40,475.00 130.60,470.00" fill="#2a3688" />
<polygon points="133.50,478.80 139.10,478.80 136.30,473.80" fill="#2a3688" />
<polygon points="128.20,487.70 133.80,487.70 131.00,482.70" fill="#2a3688" />
<polygon points="156.00,489.00 161.60,489.00 158.80,484.00" fill="#2a3688" />
<polygon points="148.90,494.20 154.50,494.20 151.70,489.20" fill="#2a3688" />
<polygon points="148.00,501.10 153.60,501.10 150.80,496.10" fill="#2a3688" />
<polygon points="156.00,501.90 161.60,501.90 158.80,496.90" fill="#2a3688" />
<polygon points="166.20,507.70 171.80,507.70 169.00,502.70" fill="#2a3688" />
<polygon points="188.00,509.60 193.60,509.60 190.80,504.60" fill="#2a3688" />
<polygon points="144.10,521.30 149.70,521.30 146.90,516.30" fill="#2a3688" />
<polygon points="138.40,539.00 144.00,539.00 141.20,534.00" fill="#2a3688" />
<polygon points="203.70,395.00 209.30,395.00 206.50,390.00" fill="#2a3688" />
<polygon points="177.80,435.30 183.40,435.30 180.60,430.30" fill="#2a3688" />
<circle cx="180.00" cy="406.50" r="2.3" fill="#ee8a2a"/>
<circle cx="142.10" cy="431.70" r="2.3" fill="#ee8a2a"/>
<circle cx="178.10" cy="434.40" r="2.3" fill="#ee8a2a"/>
<circle cx="188.30" cy="431.20" r="2.3" fill="#ee8a2a"/>
<circle cx="183.50" cy="442.30" r="2.3" fill="#ee8a2a"/>
<circle cx="200.80" cy="447.10" r="2.3" fill="#ee8a2a"/>
<circle cx="200.40" cy="456.20" r="2.3" fill="#ee8a2a"/>
<circle cx="180.00" cy="459.60" r="2.3" fill="#ee8a2a"/>
<circle cx="186.90" cy="491.50" r="2.3" fill="#ee8a2a"/>
<rect x="243.8" y="439.4" width="18.1" height="33.1" fill="#000" fill-opacity="0.07"/>
<line x1="245.00" y1="444.10" x2="260.60" y2="444.10" stroke="#ee8a2a" stroke-width="1.3" />
<circle cx="253.10" cy="444.10" r="2.3" fill="#ee8a2a"/>
<text x="265.30" y="447.00" font-size="8.5" text-anchor="start" font-weight="normal" fill="#222" >Melanoma</text>
<text x="311.60" y="447.00" font-size="8.5" text-anchor="start" font-weight="normal" fill="#222" xml:space="preserve">−0.31 (<tspan font-style="italic">P</tspan> = 0.41)</text>
<line x1="245.00" y1="457.40" x2="260.60" y2="457.40" stroke="#2a3688" stroke-width="1.3" />
<polygon points="250.30,459.70 255.90,459.70 253.10,454.70" fill="#2a3688" />
<text x="265.30" y="460.30" font-size="8.5" text-anchor="start" font-weight="normal" fill="#222" >NSCLC</text>
<text x="311.60" y="460.30" font-size="8.5" text-anchor="start" font-weight="normal" fill="#222" xml:space="preserve">0.42  (<tspan font-style="italic">P</tspan> = 0.0071)</text>
<line x1="245.00" y1="470.70" x2="260.60" y2="470.70" stroke="#c0449a" stroke-width="1.3" />
<path d="M249.80,470.70L256.40,470.70M250.77,468.37L255.43,473.03M253.10,467.40L253.10,474.00M255.43,468.37L250.77,473.03" stroke="#c0449a" stroke-width="0.95" fill="none"/>
<circle cx="253.10" cy="470.70" r="1.5" fill="#c0449a"/>
<text x="265.30" y="473.60" font-size="8.5" text-anchor="start" font-weight="normal" fill="#222" >TNBC</text>
<text x="311.60" y="473.60" font-size="8.5" text-anchor="start" font-weight="normal" fill="#222" xml:space="preserve">0.23  (<tspan font-style="italic">P</tspan> = 0.31)</text>
</svg>
</body></html>
